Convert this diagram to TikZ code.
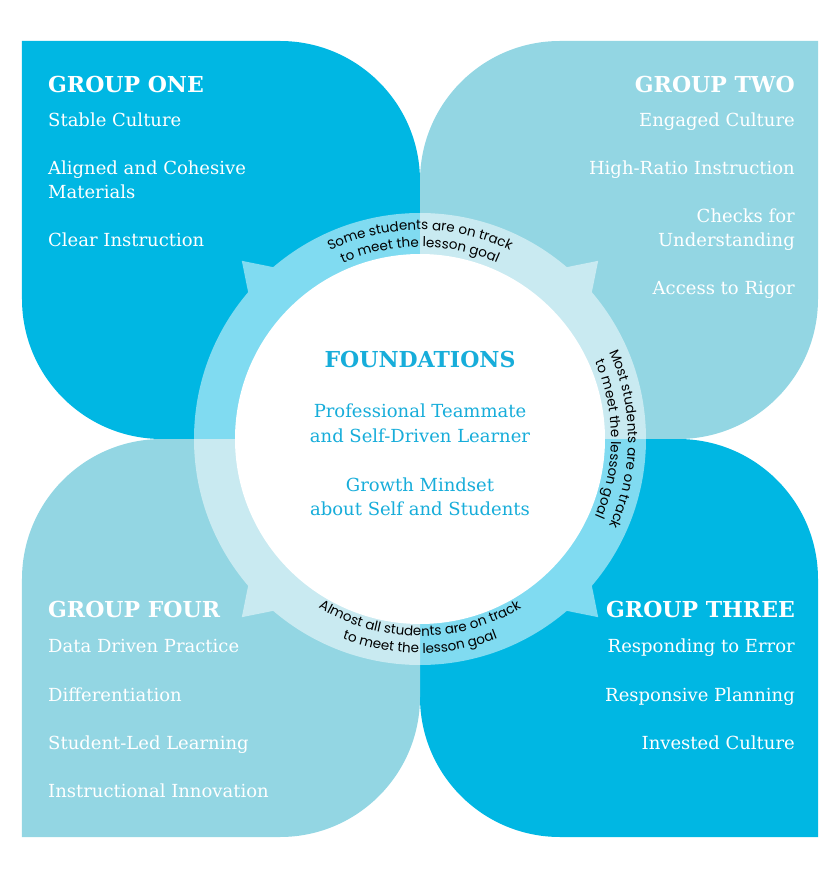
\documentclass[tikz,border=0pt]{standalone}
\usepackage{fontspec}
\setmainfont{DejaVu Serif}
\newfontfamily\ringfont{Poppins}
\usetikzlibrary{decorations.text}
\definecolor{deep}{HTML}{00B7E3}
\definecolor{pale}{HTML}{93D6E3}
\definecolor{found}{HTML}{17ADDA}
\newcommand{\petal}[3]{%
  \fill[#3, xscale=#1, yscale=#2] (0,0) -- (0,258) arc[start angle=180, end angle=90, radius=140]
    -- (398,398) -- (398,140) arc[start angle=0, end angle=-90, radius=140] -- cycle;}
\newcommand{\ringline}[4]{%
  \path[decorate, decoration={text along path, text align=center,
    text={|\ringfont\fontsize{13.5}{15}\selectfont|#4}}]
    (#2:#1) arc[start angle=#2, end angle=#3, radius=#1];}

\begin{document}
\begin{tikzpicture}[x=1pt,y=1pt,
  head/.style={font=\bfseries\fontsize{22}{24}\selectfont, text=white, inner sep=0pt},
  entry/.style={font=\fontsize{18}{24}\selectfont, text=white, inner sep=0pt},
  core/.style={font=\fontsize{18}{24}\selectfont, text=found, inner sep=0pt, anchor=base}]
  \useasboundingbox (-420,-439) rectangle (420,439);
  \petal{-1}{1}{deep}
  \petal{1}{1}{pale}
  \petal{1}{-1}{deep}
  \petal{-1}{-1}{pale}
  \fill[white, fill opacity=0.5] (0,0) circle[radius=226]
    \foreach \a in {45,135,225,315}{ (\a-4.5:226) -- (\a:252) -- (\a+4.5:226) -- cycle };
  \fill[white] (0,0) circle[radius=185];
  \ringline{209}{150}{30}{Some students are on track}
  \ringline{192}{150}{30}{to meet the lesson goal}
  \ringline{208}{60}{-60}{Most students are on track}
  \ringline{191}{60}{-60}{to meet the lesson goal}
  \ringline{197}{210}{330}{Almost all students are on track}
  \ringline{214}{210}{330}{to meet the lesson goal}
  \node[head, anchor=base west] (g1) at (-372,346) {GROUP ONE};
  \node[entry, anchor=base west] (g1a) at (-372,312) {Stable Culture};
  \node[entry, anchor=base west] (g1b) at (-372,264) {Aligned and Cohesive};
  \node[entry, anchor=base west] (g1c) at (-372,240) {Materials};
  \node[entry, anchor=base west] (g1d) at (-372,192) {Clear Instruction};
  \node[head, anchor=base east] (g2) at (375,346) {GROUP TWO};
  \node[entry, anchor=base east] (g2a) at (375,312) {Engaged Culture};
  \node[entry, anchor=base east] (g2b) at (375,264) {High-Ratio Instruction};
  \node[entry, anchor=base east] (g2c) at (375,216) {Checks for};
  \node[entry, anchor=base east] (g2d) at (375,192) {Understanding};
  \node[entry, anchor=base east] (g2e) at (375,144) {Access to Rigor};
  \node[head, anchor=base east] (g3) at (375,-178) {GROUP THREE};
  \node[entry, anchor=base east] (g3a) at (375,-213) {Responding to Error};
  \node[entry, anchor=base east] (g3b) at (375,-262) {Responsive Planning};
  \node[entry, anchor=base east] (g3c) at (375,-310) {Invested Culture};
  \node[head, anchor=base west] (g4) at (-372,-178) {GROUP FOUR};
  \node[entry, anchor=base west] (g4a) at (-372,-213) {Data Driven Practice};
  \node[entry, anchor=base west] (g4b) at (-372,-262) {Differentiation};
  \node[entry, anchor=base west] (g4c) at (-372,-310) {Student-Led Learning};
  \node[entry, anchor=base west] (g4d) at (-372,-358) {Instructional Innovation};
  \node[core, font=\bfseries\fontsize{22}{24}\selectfont] (fd) at (0,71) {FOUNDATIONS};
  \node[core] (fda) at (0,21) {Professional Teammate};
  \node[core] (fdb) at (0,-4) {and Self-Driven Learner};
  \node[core] (fdc) at (0,-52) {Growth Mindset};
  \node[core] (fdd) at (0,-76) {about Self and Students};
\end{tikzpicture}
\end{document}
